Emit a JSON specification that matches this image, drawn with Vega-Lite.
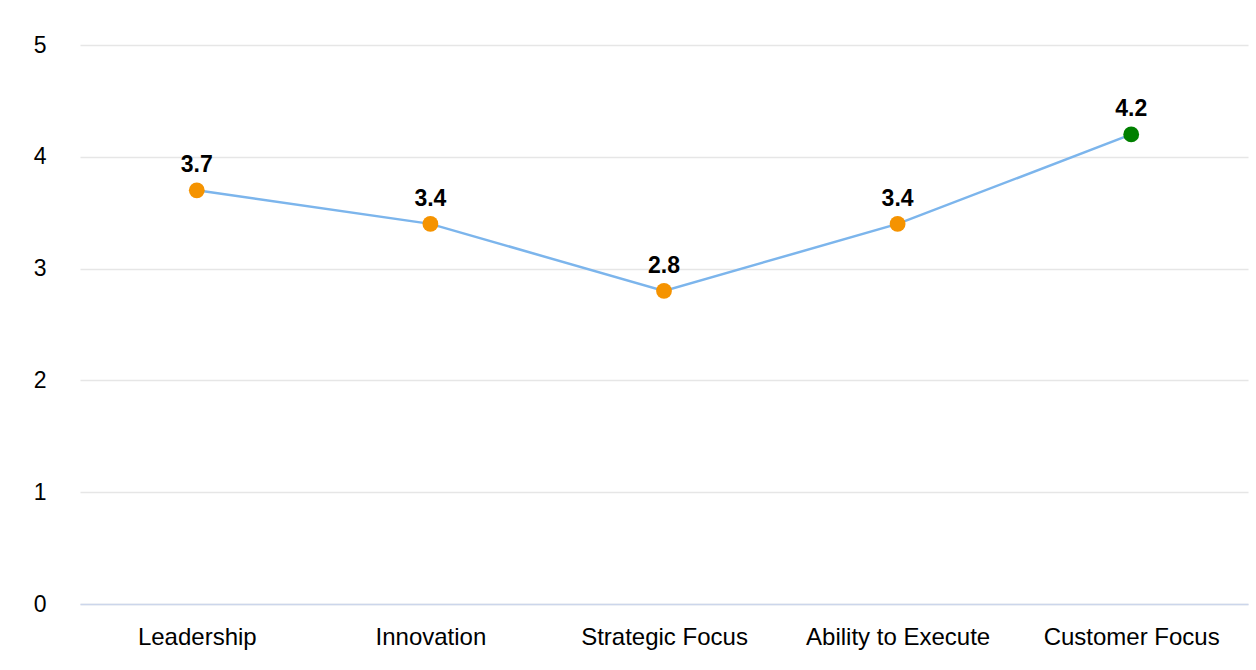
{
  "$schema": "https://vega.github.io/schema/vega-lite/v6.json",
  "autosize": "none",
  "width": 1168,
  "height": 559,
  "padding": {"left": 80, "top": 45, "right": 8, "bottom": 66},
  "data": {
    "values": [
      {"category": "Leadership", "score": 3.7, "group": "regular"},
      {"category": "Innovation", "score": 3.4, "group": "regular"},
      {"category": "Strategic Focus", "score": 2.8, "group": "regular"},
      {"category": "Ability to Execute", "score": 3.4, "group": "regular"},
      {"category": "Customer Focus", "score": 4.2, "group": "top"}
    ]
  },
  "encoding": {
    "x": {
      "field": "category",
      "type": "nominal",
      "sort": null,
      "title": null,
      "scale": {"type": "point", "padding": 0.5},
      "axis": {
        "labelAngle": 0,
        "labelFontSize": 24,
        "labelColor": "#000000",
        "labelPadding": 21,
        "labelLimit": 0,
        "ticks": false,
        "domainColor": "#ccd6eb",
        "domainWidth": 1.5,
        "grid": false
      }
    },
    "y": {
      "field": "score",
      "type": "quantitative",
      "title": null,
      "scale": {"domain": [0, 5], "nice": false},
      "axis": {
        "values": [0, 1, 2, 3, 4, 5],
        "labelFontSize": 23,
        "labelColor": "#000000",
        "labelPadding": 34,
        "ticks": false,
        "domain": false,
        "gridColor": "#e6e6e6",
        "gridWidth": 1.5
      }
    }
  },
  "layer": [
    {
      "mark": {"type": "line", "color": "#7cb5ec", "strokeWidth": 2.5}
    },
    {
      "mark": {"type": "point", "filled": true, "opacity": 1, "size": 250},
      "encoding": {
        "color": {
          "field": "group",
          "type": "nominal",
          "scale": {"domain": ["regular", "top"], "range": ["#f59300", "#008000"]},
          "legend": null
        }
      }
    },
    {
      "mark": {"type": "text", "dy": -18, "baseline": "alphabetic", "fontSize": 23, "fontWeight": "bold", "color": "#000000"},
      "encoding": {
        "text": {"field": "score", "type": "quantitative", "format": ".1f"}
      }
    }
  ],
  "config": {
    "font": "Liberation Sans",
    "view": {"stroke": null}
  }
}
